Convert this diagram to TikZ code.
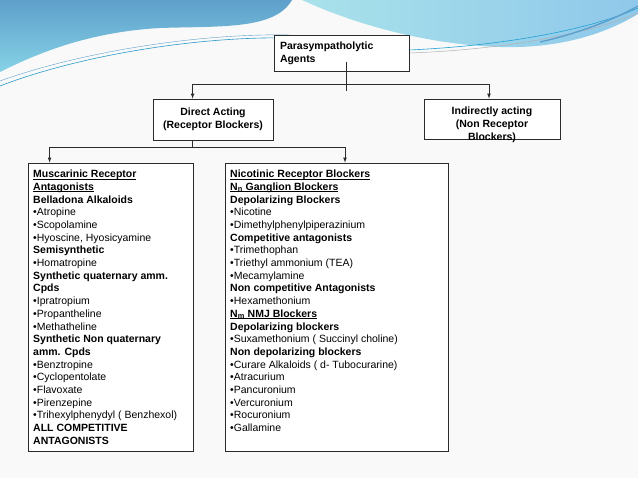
\documentclass[tikz,border=0pt]{standalone}
\usepackage{fontspec}
\setmainfont{Liberation Sans}
\usepackage{xcolor}
\usetikzlibrary{positioning,arrows,calc}
\definecolor{steel}{HTML}{5E9FCB}
\definecolor{skyc}{HTML}{86D3E6}
\definecolor{aqua}{HTML}{A9E2EA}
\definecolor{aquab}{HTML}{8FC8EA}
\definecolor{linec}{HTML}{2B2B2B}
\newcommand{\itm}{\textbullet}
\newcommand{\ulin}[1]{\setbox0\hbox{#1}\rlap{\rule[-1.7pt]{\wd0}{0.6pt}}\box0}

\begin{document}
\begin{tikzpicture}[x=1pt,y=-1pt,
  hbox/.style={draw=linec,fill=white,line width=.8pt,inner sep=0pt},
  hfont/.style={font=\fontsize{10.5}{13}\selectfont\bfseries},
  ltxt/.style={anchor=north west,inner sep=0pt,align=left,font=\fontsize{10.5}{12.7}\selectfont},
  ln/.style={draw=linec,line width=.7pt},
  arr/.style={->,>=latex,ln}]
  \useasboundingbox (0,0) rectangle (638,478);
  % slide background
  \fill[gray!5] (0,0) rectangle (638,478);
  \shade[top color=steel,bottom color=skyc] (0,0) -- (292,0) .. controls (275,30) and (220,26) .. (160,28) .. controls (90,32) and (40,52) .. (0,72) -- cycle;
  \shade[left color=aqua,right color=aquab] (302,0) .. controls (350,22) and (420,44) .. (500,47) .. controls (570,49) and (615,28) .. (638,14) -- (638,0) -- cycle;
  \draw[cyan!60!teal,line width=.6pt] (0,86) .. controls (80,55) and (200,36) .. (290,38);
  \draw[steel,line width=.4pt] (0,81) .. controls (80,52) and (200,33) .. (290,35);
  \draw[cyan!70!teal,line width=.6pt] (409,50) .. controls (500,46) and (590,30) .. (638,8);
  \draw[gray!60,line width=.5pt] (409,53) .. controls (500,50) and (590,34) .. (638,13);
  \draw[steel,line width=1.4pt] (540,42) .. controls (580,33) and (615,19) .. (638,6);

  % boxes
  \node[hbox,hfont,minimum width=135pt,minimum height=36pt,text width=123pt,align=left] (top) at (341.5,53.5) {Parasympatholytic\\Agents};
  \node[hbox,hfont,minimum width=120pt,minimum height=41pt,align=center] (direct) at (213,119.5) {Direct Acting\\(Receptor Blockers)};
  \node[hbox,minimum width=136pt,minimum height=40pt,
    label={[hfont,align=center,yshift=-6pt]center:{Indirectly acting\\(Non Receptor\\Blockers)}}] (indirect) at (492,119) {};
  \node[hbox,minimum width=165pt,minimum height=288pt] (musc) at (110.5,307) {};
  \node[hbox,minimum width=223pt,minimum height=288pt] (nic) at (336.5,307) {};

  \node[ltxt] (musctxt) at (33,169.8) {%
    \textbf{\ulin{Muscarinic Receptor}}\\
    \textbf{\ulin{Antagonists}}\\
    \textbf{Belladona Alkaloids}\\
    \itm Atropine\\
    \itm Scopolamine\\
    \itm Hyoscine, Hyosicyamine\\
    \textbf{Semisynthetic}\\
    \itm Homatropine\\
    \textbf{Synthetic quaternary amm.}\\
    \textbf{Cpds}\\
    \itm Ipratropium\\
    \itm Propantheline\\
    \itm Methatheline\\
    \textbf{Synthetic Non quaternary}\\
    \textbf{amm. Cpds}\\
    \itm Benztropine\\
    \itm Cyclopentolate\\
    \itm Flavoxate\\
    \itm Pirenzepine\\
    \itm Trihexylphenydyl ( Benzhexol)\\
    \textbf{ALL COMPETITIVE}\\
    \textbf{ANTAGONISTS}};
  \node[ltxt] (nictxt) at (230,169.8) {%
    \textbf{\ulin{Nicotinic Receptor Blockers}}\\
    \textbf{\ulin{N\textsubscript{n} Ganglion Blockers}}\\
    \textbf{Depolarizing Blockers}\\
    \itm Nicotine\\
    \itm Dimethylphenylpiperazinium\\
    \textbf{Competitive antagonists}\\
    \itm Trimethophan\\
    \itm Triethyl ammonium (TEA)\\
    \itm Mecamylamine\\
    \textbf{Non competitive Antagonists}\\
    \itm Hexamethonium\\
    \textbf{\ulin{N\textsubscript{m} NMJ Blockers}}\\
    \textbf{Depolarizing blockers}\\
    \itm Suxamethonium ( Succinyl choline)\\
    \textbf{Non depolarizing blockers}\\
    \itm Curare Alkaloids ( d- Tubocurarine)\\
    \itm Atracurium\\
    \itm Pancuronium\\
    \itm Vercuronium\\
    \itm Rocuronium\\
    \itm Gallamine};

  % connectors
  \coordinate (stem) at (346,62);
  \coordinate (stemend) at (346,91);
  \coordinate (split) at (346,84);
  \draw[ln] (stem) -- (stemend);
  \draw[arr] (split) -| ([xshift=40pt]direct.north west);
  \draw[arr] (split) -| ([xshift=-3pt]indirect.north);
  \coordinate (fork) at ([xshift=40pt,yshift=-7pt]direct.south west);
  \draw[ln] ([xshift=40pt]direct.south west) -- (fork);
  \draw[arr] (fork) -| ([xshift=22pt]musc.north west);
  \draw[arr] (fork) -| ([xshift=8.5pt]nic.north);
\end{tikzpicture}
\end{document}
